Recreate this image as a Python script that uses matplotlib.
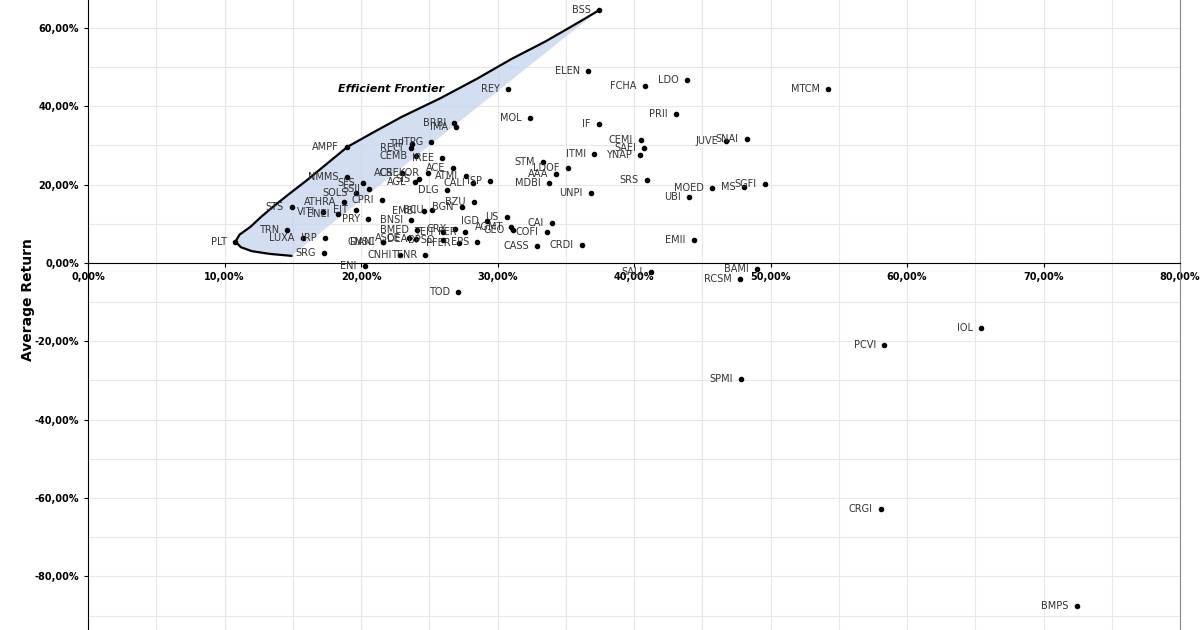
import matplotlib
matplotlib.use("Agg")
import matplotlib.pyplot as plt
import numpy as np
from matplotlib.ticker import FuncFormatter, MultipleLocator

# pixel-read data converted to (risk %, return %)
names_px = [
("BSS",599,10),("ELEN",588,71),("FCHA",645,86),("LDO",687,80),("MTCM",828,89),("REY",508,89),
("MOL",530,118),("PRII",676,114),("IF",599,124),("BRBI",454,123),("IMA",456,127),
("CEMI",641,140),("SNAI",747,139),("JUVE",726,141),("SAEI",644,148),("YNAP",640,155),("ITMI",594,154),
("AMPF",347,147),("TIP",412,144),("ITPG",431,142),("RECI",411,148),("CEMB",416,156),("IREE",442,158),
("STM",543,162),("LDOF",568,168),("AAA",556,174),("MDBI",549,183),("UNPI",591,193),
("ACE",453,168),("ATMI",466,176),("ISP",490,181),("CALI",473,183),("DLG",447,190),
("ACS",402,173),("CREKOR",428,173),("SIS",419,179),("AGL",415,182),
("BZU",474,202),("BGN",462,207),("BCU",432,210),("EMBI",424,211),("BNSI",411,220),
("US",507,217),("IGD",487,221),("AGMT",511,227),("GEO",513,230),("CAI",552,223),("COFI",547,232),
("DEA",416,239),("BMED",417,230),("TEIT",443,232),("CRX",455,229),("FER",465,232),
("GNSC",383,242),("ASCE",409,238),("BPSO",443,240),("PFER",459,243),("EPS",477,242),
("CASS",537,246),("CRDI",582,245),("CNHI",400,255),("TENR",425,255),
("NMMS",347,177),("SFS",363,183),("SSJI",369,189),("SOLS",356,193),("ATHRA",344,202),("CPRI",382,200),
("ENEI",338,214),("EIT",356,210),("VITI",323,212),("PRY",368,219),("STS",292,207),("TRN",287,230),
("LUXA",303,238),("IRP",325,238),("PLT",235,242),("SRG",324,253),("DANI",383,242),("ENI",365,266),
("SRS",647,180),("MOED",712,188),("MS",744,187),("SGFI",765,184),("UBI",689,197),("EMII",694,240),
("SALI",651,272),("BAMI",757,269),("RCSM",740,279),("TOD",458,292),("IOL",981,328),("PCVI",884,345),
("SPMI",741,379),("CRGI",881,509),("BMPS",1077,606),
]
labels = [n for n, _, _ in names_px]
risk = [round((px - 88) / 13.65, 2) for _, px, _ in names_px]
ret = [round((263 - py) / 3.917, 2) for _, _, py in names_px]

frontier_x = [14.9, 13.3, 12.0, 11.2, 10.8, 11.1, 11.9, 12.7, 13.55, 14.7, 16.0, 17.5, 19.0,
              21.0, 23.0, 25.8, 28.5, 31.0, 33.5, 35.5, 37.4]
frontier_y = [1.8, 2.3, 3.0, 4.0, 5.4, 7.2, 9.2, 11.8, 14.3, 17.5, 21.0, 25.3, 29.6,
              33.5, 37.3, 42.0, 47.0, 52.0, 56.5, 60.5, 64.4]

fig = plt.figure(figsize=(12, 6.3), dpi=100)
ax = fig.add_axes([88/1200, 0, 1092/1200, 1])
ax.set_xlim(0, 80)
ax.set_ylim(-93.7, 67.1)

fx = np.array(frontier_x); fy = np.array(frontier_y)
poly_x = np.concatenate([fx, [fx[0]]])
poly_y = np.concatenate([fy, [fy[0]]])
ax.fill(poly_x, poly_y, color="#c9d6ee", alpha=0.8, zorder=1, lw=0)
ax.plot(fx, fy, color="black", lw=1.6, zorder=2, solid_joinstyle="round")
ax.text(18.3, 43.5, "Efficient Frontier", fontsize=8, fontweight="bold", style="italic")

ax.scatter(risk, ret, s=9, color="black", zorder=3)
for n, x, y in zip(labels, risk, ret):
    ax.text(x - 0.6, y, n, fontsize=7, color="#333333", ha="right", va="center", zorder=4)

ax.xaxis.set_major_locator(MultipleLocator(10))
ax.yaxis.set_major_locator(MultipleLocator(20))
ax.xaxis.set_minor_locator(MultipleLocator(5))
ax.yaxis.set_minor_locator(MultipleLocator(10))
ax.grid(which="both", color="#e6e6ee", lw=0.8)
ax.set_axisbelow(True)
fmt = FuncFormatter(lambda v, p: f"{v:.2f}%".replace(".", ","))
ax.xaxis.set_major_formatter(fmt)
ax.yaxis.set_major_formatter(fmt)
ax.spines["bottom"].set_position(("data", 0))
ax.spines["top"].set_visible(False)
ax.spines["right"].set_color("#888888")
ax.tick_params(axis="both", labelsize=7, length=3)
ax.tick_params(which="minor", length=0)
for t in ax.get_xticklabels():
    t.set_fontweight("bold")
for t in ax.get_yticklabels():
    t.set_fontweight("bold")
fig.text(28/1200, 1 - 300/630, "Average Return", rotation=90, fontsize=10,
         fontweight="bold", ha="center", va="center")
fig.savefig("out.png")
